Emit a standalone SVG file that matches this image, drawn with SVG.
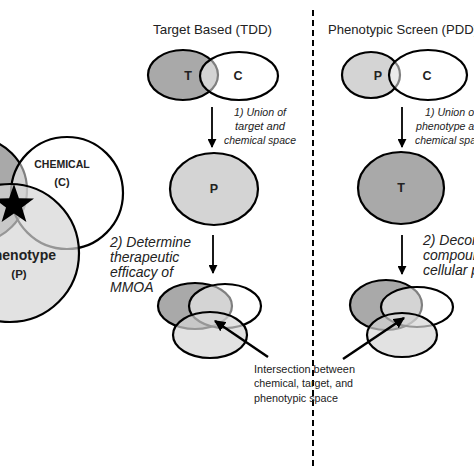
<svg xmlns="http://www.w3.org/2000/svg" width="474" height="474" viewBox="0 0 474 474">
<defs>
<style>
.ol{stroke:#000;stroke-width:2.2}
.t{fill:#a9a9a9}
.c{fill:#fff;fill-opacity:0.5}
.p{fill:#d6d6d6;fill-opacity:0.7}
.lbl{font-family:"Liberation Sans",Arial,sans-serif;font-weight:bold;fill:#222;text-anchor:middle}
.cap{font-family:"Liberation Sans",Arial,sans-serif;fill:#222}
.it{font-family:"Liberation Sans",Arial,sans-serif;font-style:italic;fill:#222}
.ar{stroke:#000;stroke-width:1.8;fill:none;marker-end:url(#ah)}
.ar2{stroke:#000;stroke-width:2.5;fill:none;marker-end:url(#ah2)}
</style>
<marker id="ah" viewBox="0 0 10 10" refX="9" refY="5" markerWidth="5" markerHeight="5" orient="auto" markerUnits="strokeWidth">
<path d="M0,0 L10,5 L0,10 Z" fill="#000"/>
</marker>
<marker id="ah2" viewBox="0 0 10 10" refX="9" refY="5" markerWidth="4.5" markerHeight="4.5" orient="auto" markerUnits="strokeWidth">
<path d="M0,0 L10,5 L0,10 Z" fill="#000"/>
</marker>
</defs>
<rect width="474" height="474" fill="#fff"/>

<g id="divider">
<line x1="313" y1="10" x2="313" y2="470" stroke="#000" stroke-width="2" stroke-dasharray="6,4"/>
</g>

<g id="overview-venn">
<circle class="t ol" cx="-25" cy="190" r="52"/>
<circle class="c ol" cx="67" cy="193" r="56"/>
<circle class="p ol" cx="10" cy="253" r="69"/>
<polygon points="14,184 18.9,198.2 34,198.5 22,207.5 26.4,222 14,213.4 1.6,222 6,207.5 -6,198.5 9.1,198.2" fill="#000"/>
<text class="lbl" x="62" y="168" font-size="10.5">CHEMICAL</text>
<text class="lbl" x="62" y="186" font-size="11">(C)</text>
<text class="lbl" x="56" y="260" font-size="14" style="text-anchor:end">Phenotype</text>
<text class="lbl" x="19" y="278" font-size="11.5">(P)</text>
</g>

<g id="tdd-title"><text class="cap" x="153" y="34" font-size="13" textLength="119" lengthAdjust="spacingAndGlyphs">Target Based  (TDD)</text></g>

<g id="tdd-start">
<ellipse class="t ol" cx="183" cy="75" rx="35" ry="25"/>
<ellipse class="c ol" cx="239" cy="76" rx="39" ry="24"/>
<text class="lbl" x="188" y="80" font-size="12.5">T</text>
<text class="lbl" x="238" y="80" font-size="12.5">C</text>
</g>

<g id="tdd-step1-label">
<text class="it" x="260" y="116" font-size="11.5" textLength="52" lengthAdjust="spacingAndGlyphs" text-anchor="middle">1) Union of</text>
<text class="it" x="260" y="130" font-size="11.5" textLength="50" lengthAdjust="spacingAndGlyphs" text-anchor="middle">target and</text>
<text class="it" x="260" y="144" font-size="11.5" textLength="72" lengthAdjust="spacingAndGlyphs" text-anchor="middle">chemical space</text>
</g>

<g id="tdd-p">
<ellipse class="ol" cx="214" cy="189" rx="44" ry="36" fill="#d4d4d4"/>
<text class="lbl" x="214" y="193" font-size="12.5">P</text>
</g>

<g id="tdd-step2-label">
<text class="it" x="110" y="247" font-size="14">2) Determine</text>
<text class="it" x="110" y="262" font-size="14">therapeutic</text>
<text class="it" x="110" y="277" font-size="14">efficacy of</text>
<text class="it" x="110" y="292" font-size="14">MMOA</text>
</g>

<g id="tdd-end">
<ellipse class="t ol" cx="195" cy="306" rx="37" ry="23"/>
<ellipse class="c ol" cx="225" cy="306" rx="36" ry="22"/>
<ellipse class="p ol" cx="210" cy="335" rx="37" ry="23"/>
</g>

<g id="pdd-title"><text class="cap" x="328" y="34" font-size="13" textLength="150" lengthAdjust="spacingAndGlyphs">Phenotypic Screen (PDD)</text></g>

<g id="pdd-start">
<ellipse class="ol" cx="371" cy="75" rx="29" ry="23" fill="#d4d4d4"/>
<ellipse class="c ol" cx="428" cy="75" rx="39" ry="25"/>
<text class="lbl" x="378" y="80" font-size="12.5">P</text>
<text class="lbl" x="427" y="80" font-size="12.5">C</text>
</g>

<g id="pdd-step1-label">
<text class="it" x="451" y="116" font-size="11.5" textLength="52" lengthAdjust="spacingAndGlyphs" text-anchor="middle">1) Union of</text>
<text class="it" x="451" y="130" font-size="11.5" textLength="70" lengthAdjust="spacingAndGlyphs" text-anchor="middle">phenotype and</text>
<text class="it" x="451" y="144" font-size="11.5" textLength="72" lengthAdjust="spacingAndGlyphs" text-anchor="middle">chemical space</text>
</g>

<g id="pdd-t">
<ellipse class="t ol" cx="401" cy="188" rx="43" ry="36"/>
<text class="lbl" x="401" y="192" font-size="12.5">T</text>
</g>

<g id="pdd-step2-label">
<text class="it" x="423" y="245" font-size="14">2) Deconvolute</text>
<text class="it" x="423" y="260" font-size="14">compound</text>
<text class="it" x="423" y="275" font-size="14">cellular pathway</text>
</g>

<g id="pdd-end">
<ellipse class="t ol" cx="386" cy="305" rx="36" ry="25"/>
<ellipse class="c ol" cx="417" cy="307" rx="36" ry="20"/>
<ellipse class="p ol" cx="402" cy="335" rx="35" ry="22"/>
</g>

<g id="intersection-label">
<text class="cap" x="254" y="373" font-size="11.5" textLength="101" lengthAdjust="spacingAndGlyphs">Intersection between</text>
<text class="cap" x="254" y="387" font-size="11.5" textLength="99" lengthAdjust="spacingAndGlyphs">chemical, target, and</text>
<text class="cap" x="254" y="402" font-size="11.5" textLength="84" lengthAdjust="spacingAndGlyphs">phenotypic space</text>
</g>

<g id="connectors">
<line class="ar" x1="212" y1="107" x2="212" y2="147"/>
<line class="ar" x1="213" y1="235" x2="213" y2="273"/>
<line class="ar" x1="402" y1="107" x2="402" y2="147"/>
<line class="ar" x1="402" y1="235" x2="402" y2="274"/>
<line class="ar2" x1="268" y1="357" x2="215" y2="321"/>
<line class="ar2" x1="343" y1="359" x2="404" y2="318"/>
</g>
</svg>
